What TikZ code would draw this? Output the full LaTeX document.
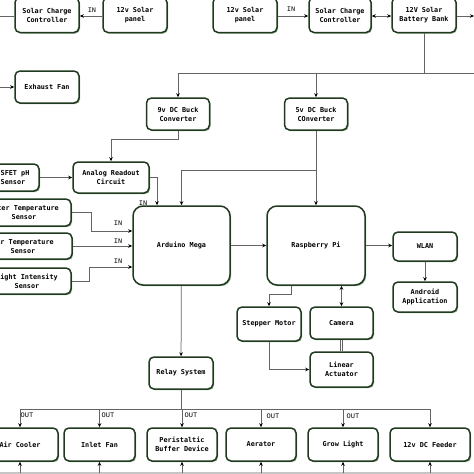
\documentclass[tikz,border=0pt]{standalone}
\usepackage{fontspec}
\setmonofont{DejaVu Sans Mono}
\newfontfamily\lblfont{Liberation Mono}
\usetikzlibrary{shadows,arrows.meta}
\definecolor{boxgreen}{RGB}{32,58,32}
\definecolor{haze}{RGB}{140,172,135}
\definecolor{wiregray}{RGB}{100,100,100}

\begin{document}
\begin{tikzpicture}[x=1pt,y=-1pt,
  block/.style={draw=boxgreen, line width=1.5pt, rounded corners=5pt, fill=white,
    drop shadow={shadow xshift=1.1pt,shadow yshift=-1.1pt,fill=haze,opacity=1},
    align=center, inner sep=1pt, font=\ttfamily\bfseries\fontsize{6.8}{9}\selectfont},
  wire/.style={draw=wiregray, line width=0.75pt},
  conn/.style={wire, -{Stealth[color=black,length=4pt,width=3.5pt]}},
  dconn/.style={wire, {Stealth[color=black,length=4pt,width=3.5pt]}-{Stealth[color=black,length=4pt,width=3.5pt]}},
  twin/.style={draw=wiregray, line width=0.6pt, double=white, double distance=1.6pt},
  lbl/.style={font=\lblfont\fontsize{7}{8}\selectfont, inner sep=0pt}]
\useasboundingbox (0,0) rectangle (474,474);
\clip (0,0) rectangle (474,474);
% power supply
\node[block, minimum width=64pt, minimum height=35pt] (scc1) at (47,15) {Solar Charge\\Controller};
\node[block, minimum width=64pt, minimum height=35pt] (panel1) at (135,15) {12v Solar\\panel};
\node[block, minimum width=64pt, minimum height=35pt] (panel2) at (245,15) {12v Solar\\panel};
\node[block, minimum width=62pt, minimum height=35pt] (scc2) at (340,15) {Solar Charge\\Controller};
\node[block, minimum width=64pt, minimum height=35pt] (batt) at (424,15) {12V Solar\\Battery Bank};
\node[block, minimum width=64pt, minimum height=32pt] (exhaust) at (47,87) {Exhaust Fan};
\node[block, minimum width=63pt, minimum height=32pt] (buck9) at (178,114) {9v DC Buck\\Converter};
\node[block, minimum width=63pt, minimum height=32pt] (buck5) at (316,114) {5v DC Buck\\COnverter};
% sensors
\node[block, minimum width=52pt, minimum height=27pt] (ph) at (13,177.5) {ISFET pH\\Sensor};
\node[block, minimum width=76pt, minimum height=31pt] (analog) at (111,177.5) {Analog Readout\\Circuit};
\node[block, minimum width=94pt, minimum height=27pt] (water) at (24,212.5) {Water Temperature\\Sensor};
\node[block, minimum width=98pt, minimum height=26pt] (air) at (23,246) {Air Temperature\\Sensor};
\node[block, minimum width=88pt, minimum height=26pt] (light) at (27,281) {Light Intensity\\Sensor};
% controllers
\node[block, rounded corners=10pt, minimum width=97pt, minimum height=79pt] (arduino) at (181.5,245.5) {Arduino Mega};
\node[block, rounded corners=10pt, minimum width=98pt, minimum height=79pt] (rpi) at (316,245.5) {Raspberry Pi};
\node[block, minimum width=64pt, minimum height=29pt] (wlan) at (425,246.5) {WLAN};
\node[block, minimum width=64pt, minimum height=30pt] (android) at (425,297) {Android\\Application};
\node[block, minimum width=64pt, minimum height=34pt] (stepper) at (269,324) {Stepper Motor};
\node[block, minimum width=63pt, minimum height=32pt] (camera) at (341.5,323) {Camera};
\node[block, minimum width=63pt, minimum height=35pt] (linear) at (341.5,369.5) {Linear\\Actuator};
\node[block, minimum width=64pt, minimum height=32pt] (relay) at (181,373) {Relay System};
% outputs
\node[block, minimum width=76pt, minimum height=33pt] (aircool) at (20,444.5) {Air Cooler};
\node[block, minimum width=71pt, minimum height=33pt] (inlet) at (99.5,444.5) {Inlet Fan};
\node[block, minimum width=70pt, minimum height=33pt] (peri) at (182,444.5) {Peristaltic\\Buffer Device};
\node[block, minimum width=70pt, minimum height=33pt] (aerator) at (261,444.5) {Aerator};
\node[block, minimum width=70pt, minimum height=33pt] (grow) at (343,444.5) {Grow Light};
\node[block, minimum width=80pt, minimum height=33pt] (feeder) at (430,444.5) {12v DC Feeder};

\coordinate (edgeL) at (0,16);
\coordinate (edgeFan) at (0,87);
\coordinate (edgeR) at (474,16);
\coordinate (railR) at (474,73);
\coordinate (tap5) at (316,170);
\coordinate (outbus) at (0,409);
\coordinate (inbus) at (0,473);
\coordinate (inbusR) at (474,473);

\draw[wire] (edgeL) -- (edgeL -| scc1.west);
\draw[conn] (edgeFan) -- (exhaust.west);
\draw[conn] (panel1.west |- edgeL) -- (scc1.east |- edgeL);
\draw[conn] (panel2.east |- edgeL) -- (scc2.west |- edgeL);
\draw[dconn] (scc2.east |- edgeL) -- (batt.west |- edgeL);
\draw[conn] (batt.east |- edgeL) -- (edgeR);
\draw[wire] (batt.south) |- (railR);
\draw[conn] (railR) -| (buck9.north);
\draw[conn] (buck5.north |- railR) -- (buck5.north);
\draw[conn] (buck9.south) -- ++(0,9) -| (analog.north);
\draw[conn] (ph.east) -- (ph.east -| analog.west);
\draw[conn] (analog.east) -| ([xshift=-24.5pt]arduino.north);
\draw[conn] (buck5.south) -- (rpi.north);
\draw[conn] (tap5) -| (arduino.north);
\draw[conn] (water.east) -- ++(20,0) |- ([yshift=14.5pt]arduino.west);
\draw[conn] (air.east) -- (air.east -| arduino.west);
\draw[conn] (light.east) -- ++(18,0) |- ([yshift=-21.5pt]arduino.west);
\draw[conn] (arduino) -- (rpi);
\draw[conn] (rpi.east) -- (rpi.east -| wlan.west);
\draw[conn] (wlan) -- (android);
\draw[conn] ([xshift=-25pt]rpi.south) -- ++(0,9) -| (stepper.north);
\draw[dconn] (camera.north |- rpi.south) -- (camera.north);
\draw[twin] (camera) -- (linear);
\draw[conn] (stepper.south) |- (linear.west);
\draw[conn] (arduino) -- (relay);
% relay outputs
\draw[wire] (relay.south) -- (relay.south |- outbus);
\draw[wire] (aircool.north |- outbus) -- (feeder.north |- outbus);
\draw[conn] (aircool.north |- outbus) -- (aircool.north);
\draw[conn] (inlet.north |- outbus) -- (inlet.north);
\draw[conn] (peri.north |- outbus) -- (peri.north);
\draw[conn] (aerator.north |- outbus) -- (aerator.north);
\draw[conn] (grow.north |- outbus) -- (grow.north);
\draw[conn] (feeder.north |- outbus) -- (feeder.north);
% bottom feed
\draw[draw=gray!45, line width=2.5pt] (inbus) -- (inbusR);
\draw[conn] (aircool.south |- inbus) -- (aircool.south);
\draw[conn] (inlet.south |- inbus) -- (inlet.south);
\draw[conn] (peri.south |- inbus) -- (peri.south);
\draw[conn] (aerator.south |- inbus) -- (aerator.south);
\draw[conn] (grow.south |- inbus) -- (grow.south);
\draw[conn] (feeder.south |- inbus) -- (feeder.south);

\node[lbl] (in1) at (92,10) {IN};
\node[lbl] (in2) at (291,9) {IN};
\node[lbl] (in3) at (143,203) {IN};
\node[lbl] (in4) at (118,223) {IN};
\node[lbl] (in5) at (118,241) {IN};
\node[lbl] (in6) at (118,261) {IN};
\node[lbl] (out1) at (27,415) {OUT};
\node[lbl] (out2) at (108,415) {OUT};
\node[lbl] (out3) at (191,415) {OUT};
\node[lbl] (out4) at (273,416) {OUT};
\node[lbl] (out5) at (353,416) {OUT};
\end{tikzpicture}
\end{document}
